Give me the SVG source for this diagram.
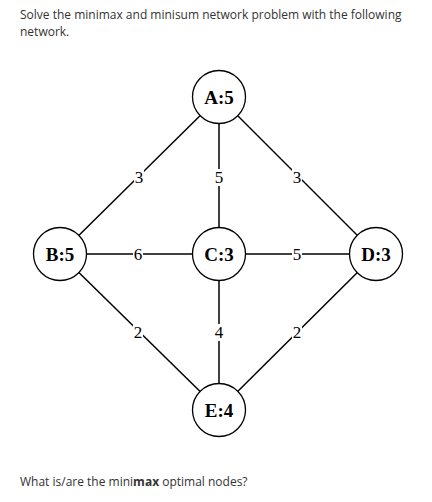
<svg xmlns="http://www.w3.org/2000/svg" width="432" height="502" viewBox="0 0 432 502">
<style>
.q{font-family:"Open Sans","Noto Sans",sans-serif;font-size:12px;fill:#333}
.n circle{fill:#fff;stroke:#000;stroke-width:1.3}
.n text{font-family:"Liberation Serif","Times New Roman",serif;font-size:19px;font-weight:bold;text-anchor:middle;fill:#000}
.e line{stroke:#000;stroke-width:1.5}
.w rect{fill:#fff}
.w text{font-family:"Liberation Serif","Times New Roman",serif;font-size:17px;text-anchor:middle;fill:#000}
</style>
<rect width="432" height="502" fill="#fff"/>
<text class="q" x="20" y="19">Solve the minimax and minisum network problem with the following</text>
<text class="q" x="20" y="36">network.</text>
<g id="connectors" class="e">
<line x1="219" y1="97" x2="60" y2="254"/>
<line x1="219" y1="97" x2="376" y2="254"/>
<line x1="219" y1="97" x2="219" y2="254"/>
<line x1="60" y1="254" x2="376" y2="254"/>
<line x1="60" y1="254" x2="219" y2="410"/>
<line x1="376" y1="254" x2="219" y2="410"/>
<line x1="219" y1="254" x2="219" y2="410"/>
</g>
<g id="weights" class="w">
<rect x="134" y="169" width="10" height="17"/><text x="139" y="183">3</text>
<rect x="214" y="169" width="10" height="17"/><text x="219" y="183">5</text>
<rect x="292" y="169" width="10" height="17"/><text x="297" y="183">3</text>
<rect x="133" y="246" width="10" height="17"/><text x="138" y="260">6</text>
<rect x="292" y="246" width="10" height="17"/><text x="297" y="260">5</text>
<rect x="133" y="324" width="10" height="17"/><text x="138" y="338">2</text>
<rect x="214" y="324" width="10" height="17"/><text x="219" y="338">4</text>
<rect x="292" y="324" width="10" height="17"/><text x="297" y="338">2</text>
</g>
<g id="A" class="n"><circle cx="219" cy="97" r="26.5"/><text x="219" y="104">A:5</text></g>
<g id="B" class="n"><circle cx="60" cy="254" r="26.5"/><text x="60" y="261">B:5</text></g>
<g id="C" class="n"><circle cx="219" cy="254" r="26.5"/><text x="219" y="261">C:3</text></g>
<g id="D" class="n"><circle cx="376" cy="254" r="26.5"/><text x="376" y="261">D:3</text></g>
<g id="E" class="n"><circle cx="219" cy="410" r="26.5"/><text x="219" y="417">E:4</text></g>
<text class="q" x="20" y="486">What is/are the mini<tspan font-weight="bold">max</tspan> optimal nodes?</text>
</svg>
